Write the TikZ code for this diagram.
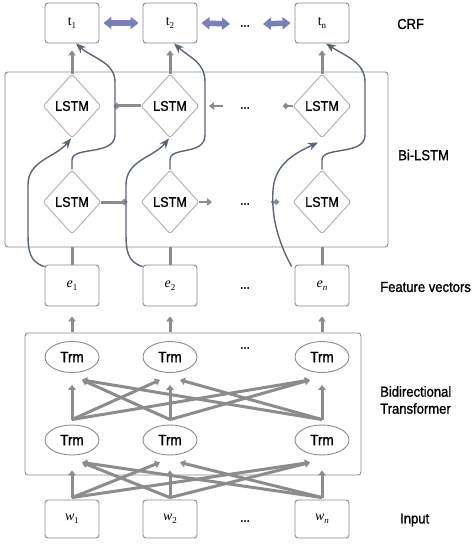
\documentclass[tikz,border=0pt]{standalone}
\usepackage{fontspec}
\setmainfont{Liberation Serif}
\newfontfamily\labfont[FakeStretch=0.9,FakeBold=1.2]{Liberation Sans}
\usetikzlibrary{shapes.geometric,arrows.meta,calc}
\definecolor{boxgray}{HTML}{8A8A8A}
\definecolor{diagray}{HTML}{AFAFAF}
\definecolor{arrgray}{HTML}{8C8C8C}
\definecolor{curvec}{HTML}{5A6577}
\definecolor{crfc}{HTML}{7A7FB8}
\newcommand{\mysub}[2]{#1\raisebox{-2.5pt}{\fontsize{9}{9}\selectfont #2}}
\tikzset{
  panel/.style={draw=boxgray, rounded corners=3pt, line width=0.9pt},
  tbox/.style={draw=boxgray, rounded corners=3pt, fill=white, minimum width=54pt, minimum height=40pt, inner sep=0pt, line width=0.9pt, font=\fontsize{14}{14}\selectfont},
  lstm/.style={diamond, draw=diagray, fill=white, minimum width=58pt, minimum height=64pt, inner sep=0pt, line width=0.9pt, rounded corners=2.5pt, font=\labfont\fontsize{14}{14}\selectfont},
  trm/.style={ellipse, draw=boxgray, fill=white, minimum width=54pt, minimum height=31pt, inner sep=0pt, line width=0.9pt, font=\labfont\fontsize{15}{15}\selectfont},
  garrow/.style={draw=arrgray, line width=3pt, -{Triangle[width=7.5pt,length=5pt]}},
  gline/.style={draw=arrgray, line width=3pt},
  gdot/.style={draw=arrgray, line width=3pt, -{Circle[length=5.5pt]}},
  curve/.style={draw=curvec, line width=1.4pt, -{Stealth[width=8pt,length=10pt]}},
  crf/.style={draw=crfc, line width=5.5pt, {Triangle[width=12pt,length=8pt]}-{Triangle[width=12pt,length=8pt]}},
  sidelab/.style={font=\labfont\fontsize{14.5}{17}\selectfont, anchor=west, align=left, inner sep=0pt},
  dots/.style={font=\labfont\fontsize{13}{13}\selectfont, inner sep=0pt},
}
\begin{document}
\begin{tikzpicture}[x=1pt,y=-1pt]
\useasboundingbox (0,0) rectangle (474,545);
% panels
\draw[panel] (5,72) rectangle (388,247);
\draw[panel] (25,333) rectangle (361,475);
% CRF row
\node[tbox] (t1) at (72,23) {\mysub{t}{1}};
\node[tbox] (t2) at (170,23) {\mysub{t}{2}};
\node[tbox] (tn) at (322,23) {\mysub{t}{n}};
\node[dots] (d1) at (245,26) {...};
% LSTM
\node[lstm] (u1) at (72,106) {LSTM};
\node[lstm] (u2) at (170,106) {LSTM};
\node[lstm] (un) at (322,106) {LSTM};
\node[dots] (d2) at (245,108) {...};
\node[lstm] (l1) at (72,202) {LSTM};
\node[lstm] (l2) at (170,202) {LSTM};
\node[lstm] (ln) at (322,202) {LSTM};
\node[dots] (d3) at (245,204) {...};
% feature vectors
\node[tbox, minimum height=41pt] (e1) at (72,285.5) {\mysub{\textit{e}}{1}};
\node[tbox, minimum height=41pt] (e2) at (170,285.5) {\mysub{\textit{e}}{2}};
\node[tbox, minimum height=41pt] (en) at (322,285.5) {\mysub{\textit{e}}{\textit{n}}};
\node[dots] (d4) at (245,288) {...};
% transformer
\node[trm] (tu1) at (72,357) {Trm};
\node[trm] (tu2) at (170,357) {Trm};
\node[trm] (tun) at (322,357) {Trm};
\node[dots] (d5) at (245,348) {...};
\node[trm, minimum height=30pt] (tl1) at (72,440) {Trm};
\node[trm, minimum height=30pt] (tl2) at (170,440) {Trm};
\node[trm, minimum height=30pt] (tln) at (322,440) {Trm};
% input
\node[tbox, minimum height=38pt] (w1) at (72,519) {\mysub{\textit{w}}{1}};
\node[tbox, minimum height=38pt] (w2) at (170,519) {\mysub{\textit{w}}{2}};
\node[tbox, minimum height=38pt] (wn) at (322,519) {\mysub{\textit{w}}{\textit{n}}};
\node[dots] (d6) at (245,521) {...};
% side labels
\node[sidelab] (lcrf) at (397,24) {CRF};
\node[sidelab] (lbi) at (398,155) {Bi-LSTM};
\node[sidelab] (lfv) at (380,287) {Feature vectors};
\node[sidelab] (lbt) at (380,400) {Bidirectional\\Transformer};
\node[sidelab] (lin) at (400,520) {Input};
% CRF arrows
\coordinate (c1) at (230,24);
\coordinate (c2) at (263,24);
\draw[crf] ([xshift=4pt]t1.east) -- ([xshift=-4pt]t2.west);
\draw[crf] ([xshift=4pt]t2.east) -- (c1);
\draw[crf] (c2) -- ([xshift=-4pt]tn.west);
% LSTM to CRF
\draw[garrow] (u1.north) -- ([yshift=-7pt]t1.south);
\draw[garrow] (u2.north) -- ([yshift=-7pt]t2.south);
\draw[garrow] (un.north) -- ([yshift=-7pt]tn.south);
% horizontal LSTM arrows
\coordinate (h1) at (114,106);
\coordinate (h2a) at (223,106);
\coordinate (h2b) at (209,106);
\coordinate (h3) at (283,106);
\draw[gdot] (u2.west) -- (h1);
\draw[garrow, line width=2.2pt] (h2a) -- (h2b);
\draw[gdot, line width=2.2pt] (un.west) -- (h3);
\coordinate (k1) at (127,202);
\coordinate (k2) at (212,202);
\coordinate (k3a) at (271,202);
\coordinate (k3b) at (279,202);
\draw[gdot] (l1.east) -- (k1);
\draw[garrow, line width=2.2pt] (l2.east) -- (k2);
\draw[gdot, line width=2.2pt] (k3a) -- (k3b);
% feature vectors to Bi-LSTM
\draw[gline] (e1.north) -- ([yshift=18pt]e1.north);
\draw[gline] (e2.north) -- ([yshift=18pt]e2.north);
\draw[gline] (en.north) -- ([yshift=18pt]en.north);
% curves
\draw[curve] ([yshift=-2pt]e1.north west) .. controls (29,262) and (28,250) .. (28,232) -- (28,185) .. controls (28,160) and (55,158) .. ([xshift=-1pt]u1.south);
\draw[curve] (l1.north) -- (72,160) .. controls (72,146) and (115,156) .. (115,135) -- (115,82) .. controls (115,62) and (92,58) .. ([xshift=4pt]t1.south);
\draw[curve] ([yshift=-2pt]e2.north west) .. controls (127,262) and (126,250) .. (126,232) -- (126,185) .. controls (126,160) and (153,158) .. ([xshift=-1pt]u2.south);
\draw[curve] (l2.north) -- (170,160) .. controls (170,146) and (205,156) .. (205,135) -- (205,82) .. controls (205,62) and (190,58) .. ([xshift=4pt]t2.south);
\draw[curve] ([xshift=-3pt,yshift=-2pt]en.north west) .. controls (280,245) and (271,220) .. (273,190) .. controls (275,162) and (298,152) .. ([xshift=-4pt,yshift=-4pt]un.south);
\draw[curve] (ln.north) -- (322,160) .. controls (322,146) and (365,156) .. (365,135) -- (365,82) .. controls (365,62) and (345,56) .. ([xshift=4pt]tn.south);
% Trm to feature vectors
\draw[garrow] ([yshift=9pt]tu1.north) -- ([yshift=-10pt]e1.south);
\draw[garrow] ([yshift=9pt]tu2.north) -- ([yshift=-10pt]e2.south);
\draw[garrow] ([yshift=9pt]tun.north) -- ([yshift=-10pt]en.south);
% Trm lower to upper
\draw[garrow] ([yshift=5pt]tl1.north) -- ([yshift=-12pt]tu1.south);
\draw[garrow] ([yshift=5pt]tl2.north) -- ([yshift=-12pt]tu2.south);
\draw[garrow] ([yshift=5pt]tln.north) -- ([yshift=-12pt]tun.south);
\draw[garrow] ([yshift=5pt]tl1.north) -- ([xshift=-10pt,yshift=-7pt]tu2.south);
\draw[garrow] ([yshift=5pt]tl1.north) -- ([xshift=-12pt,yshift=-7pt]tun.south);
\draw[garrow] ([yshift=5pt]tl2.north) -- ([xshift=10pt,yshift=-7pt]tu1.south);
\draw[garrow] ([yshift=5pt]tl2.north) -- ([xshift=-12pt,yshift=-7pt]tun.south);
\draw[garrow] ([yshift=5pt]tln.north) -- ([xshift=10pt,yshift=-7pt]tu1.south);
\draw[garrow] ([yshift=5pt]tln.north) -- ([xshift=10pt,yshift=-7pt]tu2.south);
% input to lower Trm
\draw[garrow] ([yshift=2pt]w1.north) -- ([yshift=-15pt]tl1.south);
\draw[garrow] ([yshift=2pt]w2.north) -- ([yshift=-15pt]tl2.south);
\draw[garrow] ([yshift=2pt]wn.north) -- ([yshift=-15pt]tln.south);
\draw[garrow] ([yshift=2pt]w1.north) -- ([xshift=-10pt,yshift=-7pt]tl2.south);
\draw[garrow] ([yshift=2pt]w1.north) -- ([xshift=-12pt,yshift=-7pt]tln.south);
\draw[garrow] ([yshift=2pt]w2.north) -- ([xshift=10pt,yshift=-7pt]tl1.south);
\draw[garrow] ([yshift=2pt]w2.north) -- ([xshift=-12pt,yshift=-7pt]tln.south);
\draw[garrow] ([yshift=2pt]wn.north) -- ([xshift=10pt,yshift=-7pt]tl1.south);
\draw[garrow] ([yshift=2pt]wn.north) -- ([xshift=10pt,yshift=-7pt]tl2.south);
\end{tikzpicture}
\end{document}
